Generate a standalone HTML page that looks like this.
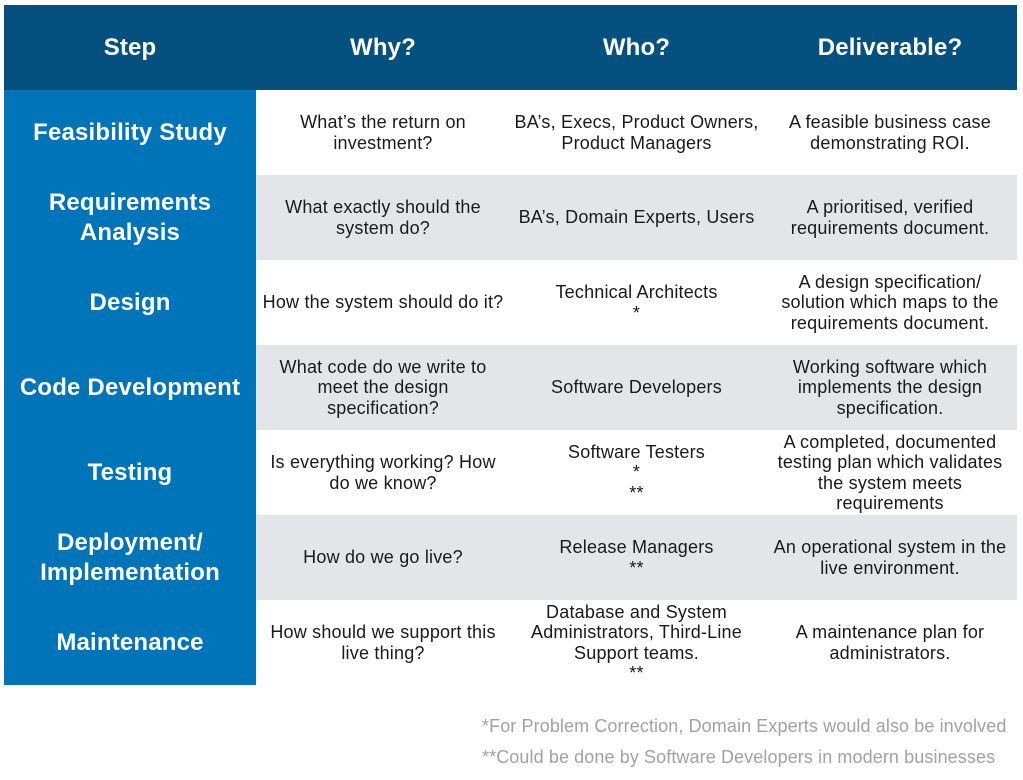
<!DOCTYPE html>
<html>
<head>
<meta charset="utf-8">
<style>
html,body{margin:0;padding:0;background:#fff;}
body{width:1023px;height:780px;position:relative;overflow:hidden;font-family:"Liberation Sans",Arial,Helvetica,sans-serif;}
.c{position:absolute;display:flex;align-items:center;justify-content:center;text-align:center;white-space:nowrap;box-sizing:border-box;}
.hd{background:#04507f;color:#fff;font-weight:bold;font-size:24px;letter-spacing:0.15px;}
.st{color:#fff;font-weight:bold;font-size:24px;line-height:30px;letter-spacing:0.18px;}
.t{color:#1a1a1a;font-size:18px;line-height:20.4px;letter-spacing:0.2px;}
.g{background:#e4e5e8;}
.foot{position:absolute;left:482px;color:#a2a2a2;font-size:18px;white-space:nowrap;line-height:20px;letter-spacing:0.1px;}
</style>
</head>
<body>
<!-- header bar -->
<div class="c hd" style="left:4px;top:5px;width:1013px;height:85px;"></div>
<div class="c hd" style="left:4px;top:5px;width:252px;height:85px;background:transparent;">Step</div>
<div class="c hd" style="left:256px;top:5px;width:254px;height:85px;background:transparent;">Why?</div>
<div class="c hd" style="left:510px;top:5px;width:253px;height:85px;background:transparent;">Who?</div>
<div class="c hd" style="left:763px;top:5px;width:254px;height:85px;background:transparent;">Deliverable?</div>

<!-- blue column -->
<div style="position:absolute;left:4px;top:90px;width:252px;height:595px;background:#0074b8;"></div>

<!-- gray rows -->
<div class="g" style="position:absolute;left:256px;top:175px;width:761px;height:85px;"></div>
<div class="g" style="position:absolute;left:256px;top:345px;width:761px;height:85px;"></div>
<div class="g" style="position:absolute;left:256px;top:515px;width:761px;height:85px;"></div>

<!-- Row 1 -->
<div class="c st" style="left:4px;top:90px;width:252px;height:85px;">Feasibility Study</div>
<div class="c t" style="left:256px;top:90px;width:254px;height:85px;">What’s the return on<br>investment?</div>
<div class="c t" style="left:510px;top:90px;width:253px;height:85px;">BA’s, Execs, Product Owners,<br>Product Managers</div>
<div class="c t" style="left:763px;top:90px;width:254px;height:85px;">A feasible business case<br>demonstrating ROI.</div>

<!-- Row 2 -->
<div class="c st" style="left:4px;top:175px;width:252px;height:85px;">Requirements<br>Analysis</div>
<div class="c t" style="left:256px;top:175px;width:254px;height:85px;">What exactly should the<br>system do?</div>
<div class="c t" style="left:510px;top:175px;width:253px;height:85px;">BA’s, Domain Experts, Users</div>
<div class="c t" style="left:763px;top:175px;width:254px;height:85px;">A prioritised, verified<br>requirements document.</div>

<!-- Row 3 -->
<div class="c st" style="left:4px;top:260px;width:252px;height:85px;">Design</div>
<div class="c t" style="left:256px;top:260px;width:254px;height:85px;">How the system should do it?</div>
<div class="c t" style="left:510px;top:260px;width:253px;height:85px;">Technical Architects<br>*</div>
<div class="c t" style="left:763px;top:260px;width:254px;height:85px;">A design specification/<br>solution which maps to the<br>requirements document.</div>

<!-- Row 4 -->
<div class="c st" style="left:4px;top:345px;width:252px;height:85px;">Code Development</div>
<div class="c t" style="left:256px;top:345px;width:254px;height:85px;">What code do we write to<br>meet the design<br>specification?</div>
<div class="c t" style="left:510px;top:345px;width:253px;height:85px;">Software Developers</div>
<div class="c t" style="left:763px;top:345px;width:254px;height:85px;">Working software which<br>implements the design<br>specification.</div>

<!-- Row 5 -->
<div class="c st" style="left:4px;top:430px;width:252px;height:85px;">Testing</div>
<div class="c t" style="left:256px;top:430px;width:254px;height:85px;">Is everything working? How<br>do we know?</div>
<div class="c t" style="left:510px;top:430px;width:253px;height:85px;">Software Testers<br>*<br>**</div>
<div class="c t" style="left:763px;top:430px;width:254px;height:85px;">A completed, documented<br>testing plan which validates<br>the system meets<br>requirements</div>

<!-- Row 6 -->
<div class="c st" style="left:4px;top:515px;width:252px;height:85px;">Deployment/<br>Implementation</div>
<div class="c t" style="left:256px;top:515px;width:254px;height:85px;">How do we go live?</div>
<div class="c t" style="left:510px;top:515px;width:253px;height:85px;">Release Managers<br>**</div>
<div class="c t" style="left:763px;top:515px;width:254px;height:85px;">An operational system in the<br>live environment.</div>

<!-- Row 7 -->
<div class="c st" style="left:4px;top:600px;width:252px;height:85px;">Maintenance</div>
<div class="c t" style="left:256px;top:600px;width:254px;height:85px;">How should we support this<br>live thing?</div>
<div class="c t" style="left:510px;top:600px;width:253px;height:85px;">Database and System<br>Administrators, Third-Line<br>Support teams.<br>**</div>
<div class="c t" style="left:763px;top:600px;width:254px;height:85px;">A maintenance plan for<br>administrators.</div>

<!-- Footnotes -->
<div class="foot" style="top:716px;">*For Problem Correction, Domain Experts would also be involved</div>
<div class="foot" style="top:747px;">**Could be done by Software Developers in modern businesses</div>
</body>
</html>
